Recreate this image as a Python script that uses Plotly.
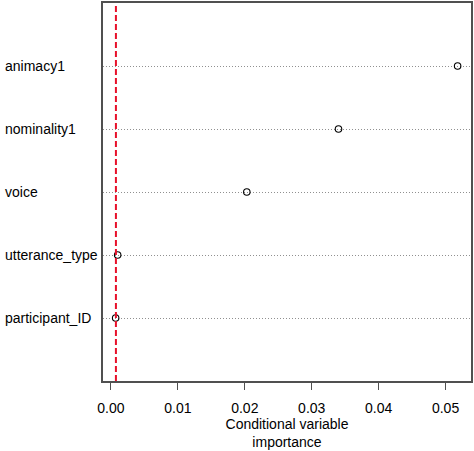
import plotly.graph_objects as go

# conditional variable importance
variables = ["participant_ID", "utterance_type", "voice", "nominality1", "animacy1"]
importance = [0.0007, 0.0010, 0.0203, 0.0340, 0.0518]
cutoff = 0.00074  # red dashed reference line
x_ticks = [0.00, 0.01, 0.02, 0.03, 0.04, 0.05]

FONT = "Liberation Sans, Arial, sans-serif"
BOX = "#505050"

positions = list(range(1, len(variables) + 1))

fig = go.Figure()

fig.add_trace(go.Scatter(
    x=importance, y=positions, mode="markers",
    marker=dict(symbol="circle-open", size=6.5, color="black", line=dict(width=1.1)),
    showlegend=False, hoverinfo="x",
))

# red dashed vertical line
fig.add_shape(type="line", xref="x", yref="paper", x0=cutoff, x1=cutoff, y0=0, y1=1,
              line=dict(color="#e8102a", width=2, dash="6px,3px"))

# left-aligned variable names
for name, pos in zip(variables, positions):
    fig.add_annotation(text=name, xref="paper", yref="y", x=-101 / 370, y=pos,
                       xanchor="left", yanchor="middle", showarrow=False,
                       font=dict(family=FONT, size=14, color="black"))

fig.update_xaxes(
    range=[-0.00119, 0.0538], tickvals=x_ticks, ticktext=[f"{v:.2f}" for v in x_ticks],
    ticks="outside", ticklen=7, tickwidth=1.2, tickcolor=BOX, ticklabelstandoff=6,
    showline=True, mirror=True, linecolor=BOX, linewidth=1.5,
    showgrid=False, zeroline=False,
    tickfont=dict(family=FONT, size=14, color="black"),
    title=dict(text="Conditional variable<br>importance", standoff=2,
               font=dict(family=FONT, size=14, color="black")),
)
fig.update_yaxes(
    range=[0, len(variables) + 1], tickvals=positions, showticklabels=False,
    showline=True, mirror=True, linecolor=BOX, linewidth=1.5,
    showgrid=True, gridcolor="#909090", gridwidth=1, griddash="1px,2px", zeroline=False,
)

fig.update_layout(
    width=474, height=451,
    margin=dict(l=103, r=1, t=1, b=70),
    plot_bgcolor="white", paper_bgcolor="white",
)

# drop the browser's default body margin so the figure sits at the window corner
fig.write_html("out.html", config={"displayModeBar": False},
               post_script="document.body.style.margin='0';")
